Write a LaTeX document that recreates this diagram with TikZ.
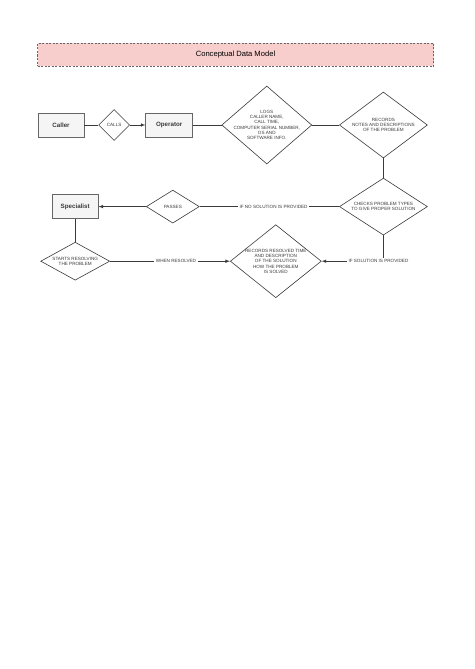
\documentclass[tikz,border=0pt]{standalone}
\usepackage{fontspec}
\setmainfont{Liberation Sans}
\usetikzlibrary{shapes.geometric,positioning}
\definecolor{titlefill}{HTML}{F8CECC}
\definecolor{boxfill}{HTML}{F5F5F5}
\definecolor{boxline}{HTML}{666666}
\definecolor{ink}{HTML}{3A3A3A}
\newcommand{\smalltxt}{\fontsize{4.6}{5.3}\selectfont}

\begin{document}
\begin{tikzpicture}[x=1pt,y=-1pt,line width=0.6pt]
	\tikzstyle{entity}=[rectangle, draw=boxline, fill=boxfill, minimum width=46pt, minimum height=24pt, font=\fontsize{6.2}{7}\selectfont\bfseries, text=ink]
	\tikzstyle{relation}=[diamond, draw=ink, fill=white, inner sep=0pt]
	\tikzstyle{txt}=[align=center, font=\smalltxt, text=ink, inner sep=0pt]
	\tikzstyle{cond}=[txt, fill=white, inner sep=1.5pt]
	\tikzstyle{connect}=[-latex, draw=ink]
	\tikzstyle{link}=[draw=ink]
	\useasboundingbox (0,0) rectangle (474,669);
	% title bar
	\node[rectangle, draw=boxline, dash pattern=on 2pt off 1.5pt, fill=titlefill, minimum width=396pt, minimum height=23pt, font=\fontsize{7.6}{9}\selectfont] (title) at (235.5,55) {Conceptual Data Model};
	% first row
	\node[entity] (caller) at (61,125) {Caller};
	\node[relation, minimum width=31pt, minimum height=31pt, label={[txt]center:CALLS}] (calls) [right=14pt of caller] {};
	\node[entity, minimum width=47pt] (operator) [right=15.5pt of calls] {Operator};
	\node[relation, minimum width=90pt, minimum height=78pt, label={[txt]center:LOGS\\CALLER NAME,\\CALL TIME,\\COMPUTER SERIAL NUMBER,\\OS AND\\SOFTWARE INFO.}] (logs) [right=28.5pt of operator] {};
	\node[relation, minimum width=88pt, minimum height=66pt, label={[txt]center:RECORDS\\NOTES AND DESCRIPTIONS\\OF THE PROBLEM}] (records) [right=27pt of logs] {};
	% second row
	\node[relation, minimum width=88pt, minimum height=57pt, label={[txt]center:CHECKS PROBLEM TYPES\\TO GIVE PROPER SOLUTION}] (checks) [below=19.5pt of records] {};
	\node[relation, minimum width=53pt, minimum height=33pt, label={[txt]center:PASSES}] (passes) [left=139.5pt of checks] {};
	\node[entity] (specialist) [left=47.5pt of passes] {Specialist};
	% third row
	\node[relation, minimum width=69pt, minimum height=38pt, label={[txt]center:STARTS RESOLVING\\THE PROBLEM}] (starts) [below=23pt of specialist] {};
	\node[relation, minimum width=91pt, minimum height=73pt, label={[txt]center:RECORDS RESOLVED TIME\\AND DESCRIPTION\\OF THE SOLUTION\\HOW THE PROBLEM\\IS SOLVED}] (resolved) [right=120pt of starts] {};

	\path[link] (caller) -- (calls);
	\path[connect] (calls) -- (operator);
	\path[link] (operator) -- (logs);
	\path[link] (logs) -- (records);
	\path[link] (records) -- (checks);
	\path[link] (checks) -- node[cond, pos=0.47] {IF NO SOLUTION IS PROVIDED} (passes);
	\path[connect] (passes) -- (specialist);
	\path[link] (specialist) -- (starts);
	\path[connect] (starts) -- node[cond, pos=0.55] {WHEN RESOLVED} (resolved);
	\path[connect] (checks.south) |- node[cond, pos=0.54] {IF SOLUTION IS PROVIDED} (resolved.east);
\end{tikzpicture}
\end{document}
